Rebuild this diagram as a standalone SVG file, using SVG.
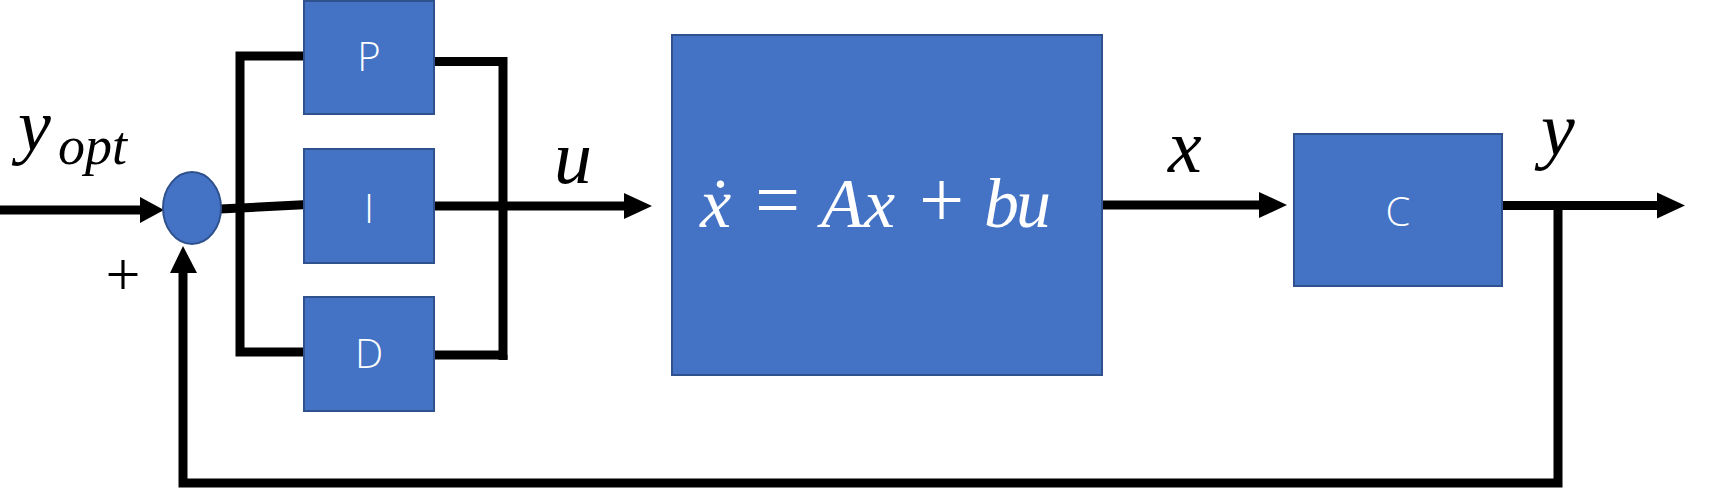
<svg xmlns="http://www.w3.org/2000/svg" width="1713" height="488" viewBox="0 0 1713 488">
<style>
.box{fill:#4472C4;stroke:#2F528F;stroke-width:2}
.lbl{font-family:"Open Sans","Noto Sans","Liberation Sans",sans-serif;font-weight:300;font-size:40px;fill:#ffffff;text-anchor:middle;dominant-baseline:central}
.math{font-family:"Liberation Serif","DejaVu Serif",serif;font-style:italic;fill:#000}
.wire{fill:none;stroke:#000;stroke-width:9;stroke-linecap:butt;stroke-linejoin:miter}
.head{fill:#000}
</style>
<rect width="1713" height="488" fill="#fff"/>
<g id="connectors">
<line class="wire" x1="0" y1="210" x2="143" y2="210"/>
<polygon class="head" points="140,197 164,210 140,223"/>
<line class="wire" x1="220" y1="209" x2="308" y2="204.5"/>
<polyline class="wire" points="308,56 240,56 240,352 308,352"/>
<polyline class="wire" points="434,61.5 503,61.5 503,355 434,355"/>
<line class="wire" x1="503" y1="355" x2="503" y2="360"/>
<line class="wire" x1="434" y1="206" x2="627" y2="206"/>
<polygon class="head" points="624,193 652,206 624,219"/>
<line class="wire" x1="1102" y1="205" x2="1262" y2="205"/>
<polygon class="head" points="1259,192 1287,205 1259,218"/>
<line class="wire" x1="1502" y1="205.5" x2="1660" y2="205.5"/>
<polygon class="head" points="1657,192.5 1685,205.5 1657,218.5"/>
<polyline class="wire" points="1558,210 1558,483 183,483 183,270"/>
<polygon class="head" points="170,273 183,246 197,273"/>
</g>
<g id="sum">
<ellipse cx="192" cy="208" rx="29" ry="36" fill="#4472C4" stroke="#2F528F" stroke-width="2"/>
</g>
<g id="P">
<rect class="box" x="304" y="1" width="130" height="113"/>
<text class="lbl" x="369" y="55">P</text>
</g>
<g id="I">
<rect class="box" x="304" y="149" width="130" height="114"/>
<text class="lbl" x="369" y="207">I</text>
</g>
<g id="D">
<rect class="box" x="304" y="297" width="130" height="114"/>
<text class="lbl" x="369" y="352">D</text>
</g>
<g id="plant">
<rect class="box" x="672" y="35" width="430" height="340"/>
<text class="math" font-size="70" style="fill:#fff" y="227"><tspan x="700">ẋ</tspan><tspan x="755" font-style="normal" font-size="80">=</tspan><tspan x="821">A</tspan><tspan x="864">x</tspan><tspan x="919" font-style="normal" font-size="80">+</tspan><tspan x="984">b</tspan><tspan x="1016">u</tspan></text>
</g>
<g id="C">
<rect class="box" x="1294" y="134" width="208" height="152"/>
<text class="lbl" x="1398" y="210">C</text>
</g>
<g id="labels">
<text class="math" x="18" y="150" font-size="74">y</text>
<text class="math" x="58" y="164" font-size="54">opt</text>
<text class="math" x="554" y="183" font-size="76">u</text>
<text class="math" x="1168" y="172" font-size="76">x</text>
<text class="math" x="1541" y="155" font-size="76">y</text>
<text x="123" y="295" font-family="Liberation Serif, serif" font-size="62" text-anchor="middle">+</text>
</g>
</svg>
